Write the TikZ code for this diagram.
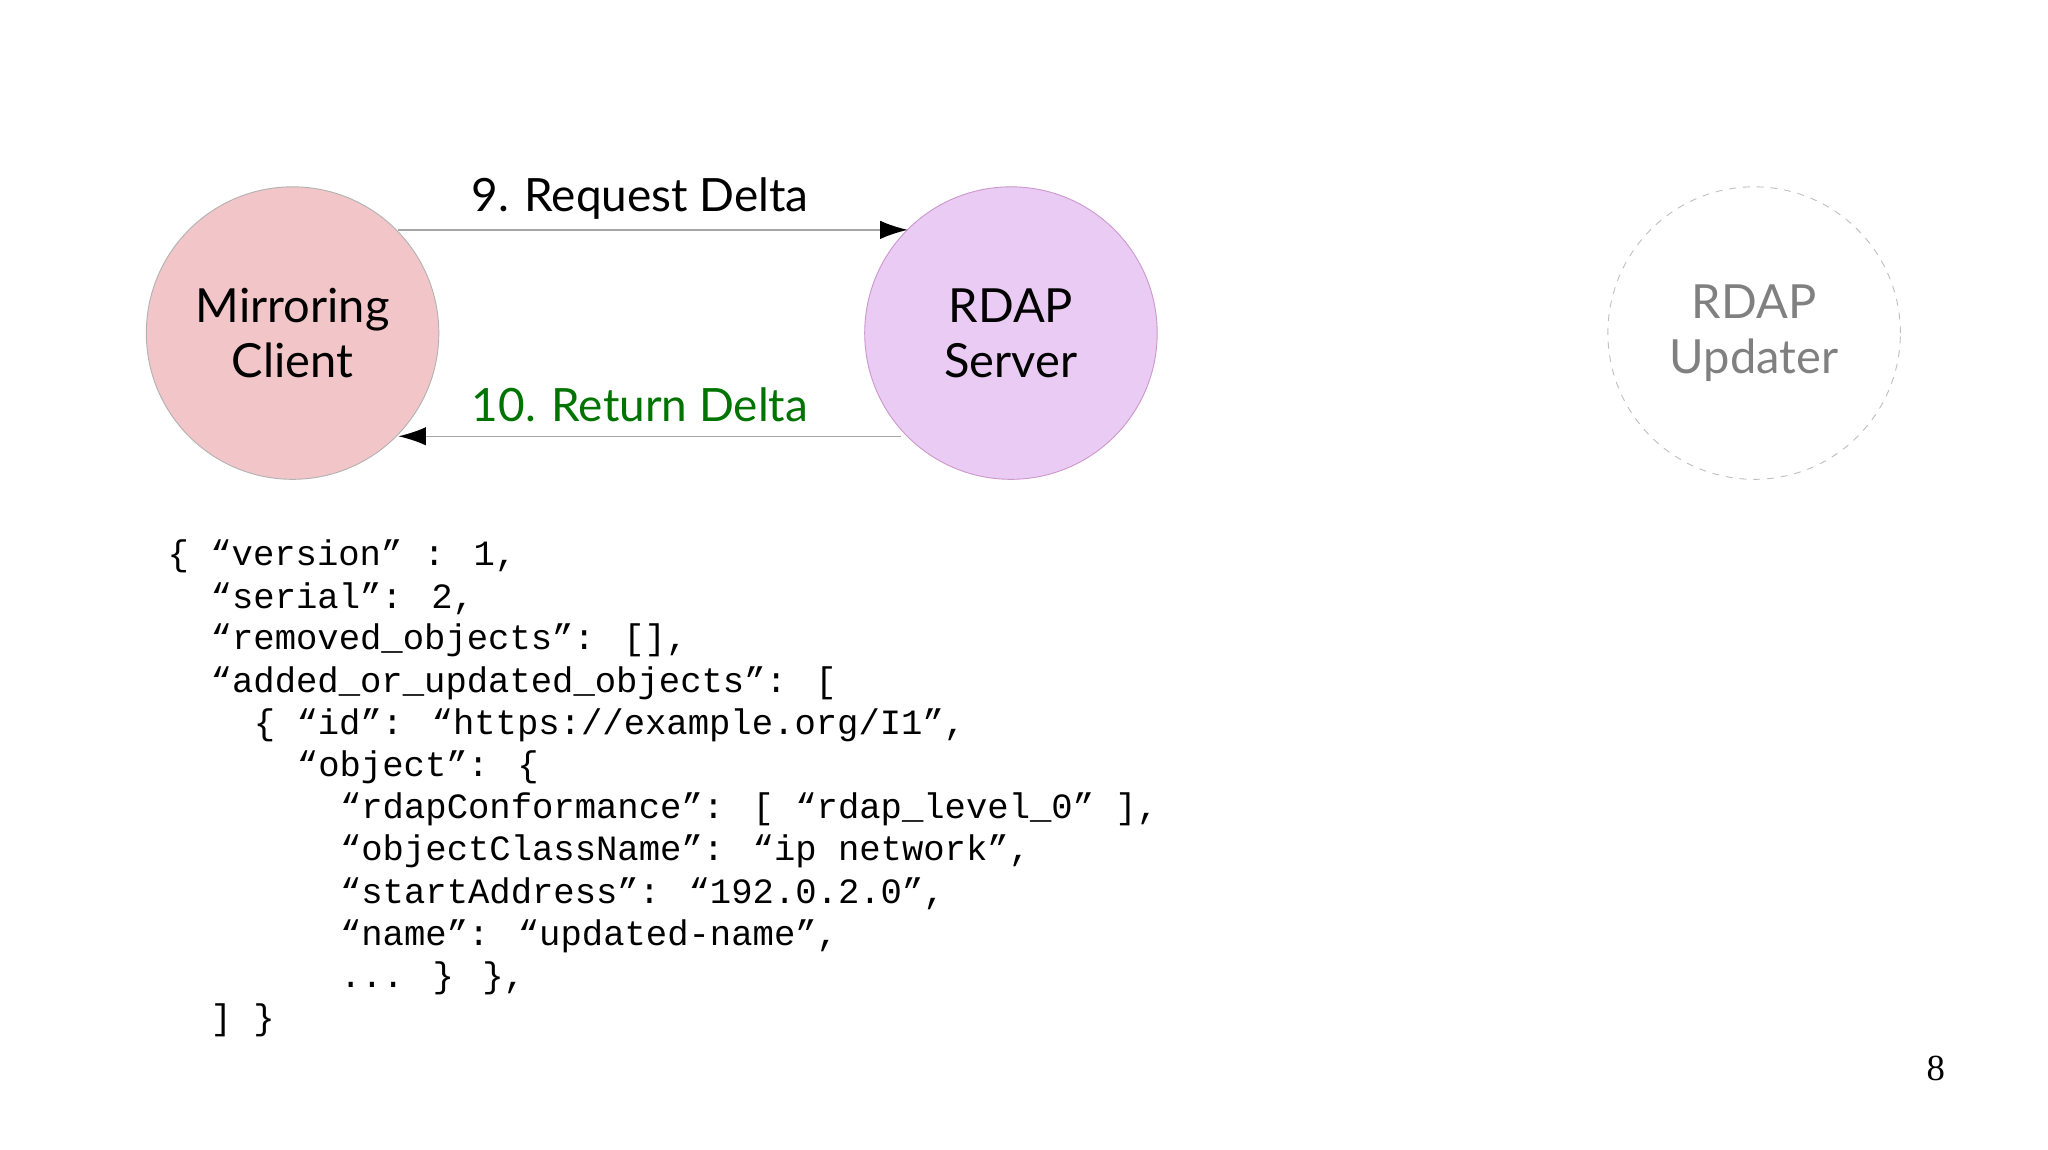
\documentclass[tikz,border=0pt]{standalone}
\usepackage{fontspec}
\setmainfont{Lato}
\newfontfamily\codefont{Liberation Mono}
\newfontfamily\numfont{Liberation Serif}
\usetikzlibrary{arrows.meta}
\definecolor{clientc}{HTML}{F2C6C8}
\definecolor{serverc}{HTML}{EACBF3}
\begin{document}
\begin{tikzpicture}[x=0.02cm,y=-0.02cm,
  circ/.style={circle,minimum size=4.48cm,inner sep=0pt,align=center,font=\fontsize{20.5}{24}\selectfont},
  conn/.style={draw=gray!70,line width=0.6pt,-{Latex[length=12pt,width=8pt,black]}},
  lab/.style={font=\fontsize{20}{23}\selectfont},
  code/.style={anchor=west,inner sep=0pt,font=\codefont\fontsize{15.5}{18}\selectfont}]
\useasboundingbox (0,0) rectangle (1568,880);
\node[circ,fill=clientc,draw=gray!60] (mc) at (224,255) {Mirroring\\Client};
\node[circ,fill=serverc,draw=violet!40] (rs) at (774,255) {RDAP\\Server};
\node[circ,draw=gray!50,dashed,text=gray] (ru) at (1343,255) {RDAP\\Updater};
\coordinate (a1) at (305,176); \coordinate (a2) at (695,176);
\coordinate (b1) at (690,334); \coordinate (b2) at (305,334);
\draw[conn] (a1) -- (a2);
\draw[conn] (b1) -- (b2);
\node[lab] (l1) at (490,152) {9. Request Delta};
\node[lab,text=green!45!black] (l2) at (490,310) {10. Return Delta};
\foreach \t/\i/\n in {
 {\{ “version” : 1,}/0/1,
 {“serial”: 2,}/2/2,
 {“removed\_objects”: [],}/2/3,
 {“added\_or\_updated\_objects”: [}/2/4,
 {\{ “id”: “https://example.org/I1”,}/4/5,
 {“object”: \{}/6/6,
 {“rdapConformance”: [ “rdap\_level\_0” ],}/8/7,
 {“objectClassName”: “ip network”,}/8/8,
 {“startAddress”: “192.0.2.0”,}/8/9,
 {“name”: “updated-name”,}/8/10,
 {... \} \},}/8/11,
 {] \}}/2/12}
 \node[code] (c\n) at ({128+16.5*\i},{426+32.3*(\n-1)}) {\t};
\node[font=\numfont\fontsize{16}{18}\selectfont] (pg) at (1482,818) {8};
\end{tikzpicture}
\end{document}
